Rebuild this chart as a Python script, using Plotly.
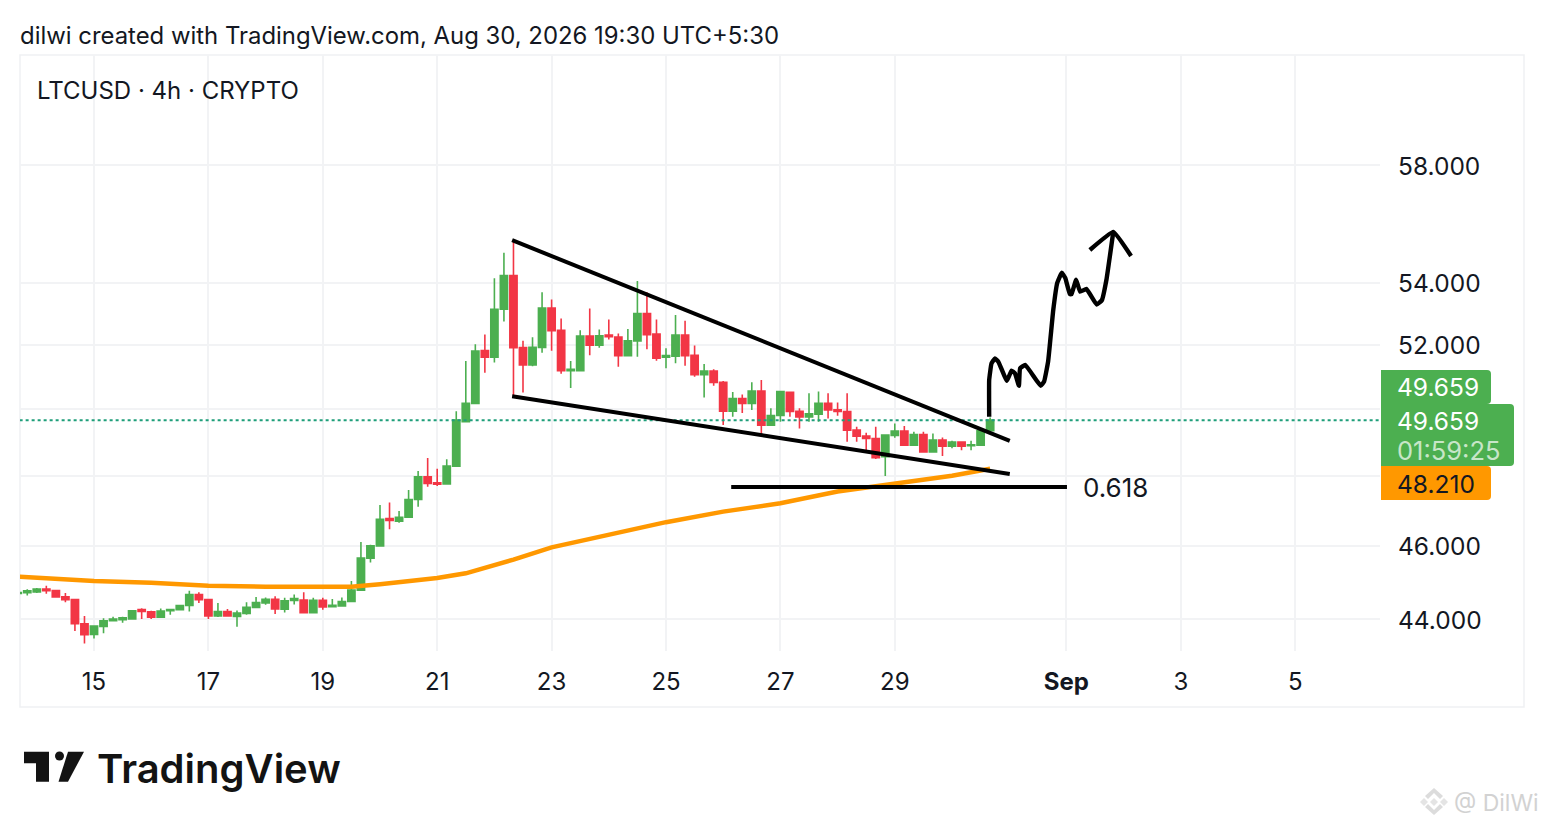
import math
from datetime import datetime, timedelta
import plotly.graph_objects as go

# ---------- data ----------
base_time = datetime(2026, 8, 15)
candle_index = list(range(-8, 95))
open_ = [44.69,44.71,44.73,44.81,44.77,44.60,44.52,43.87,43.59,43.80,43.95,43.98,44.00,44.25,44.19,44.05,44.22,44.25,44.36,44.66,44.52,44.08,44.20,44.07,44.15,44.31,44.43,44.53,44.26,44.50,44.51,44.17,44.50,44.33,44.35,44.47,
         44.78,45.66,46.00,46.77,46.70,46.81,47.32,47.98,47.80,47.77,48.29,49.61,50.17,51.81,51.60,53.13,54.23,51.90,51.36,51.91,53.17,52.45,51.18,51.18,52.27,51.98,52.30,52.24,51.65,52.11,52.99,52.33,51.60,51.63,52.30,51.66,51.05,51.17,50.82,49.93,50.32,50.17,50.55,49.51,49.80,50.51,49.93,49.76,49.84,50.17,49.97,49.92,49.36,49.18,49.11,48.57,49.20,49.33,48.91,49.23,48.71,49.06,48.88,49.00,48.89,48.91,49.34]
high = [44.72,44.80,44.84,44.90,44.79,44.70,44.53,44.08,43.81,44.02,44.06,44.06,44.24,44.29,44.22,44.28,44.27,44.37,44.76,44.72,44.54,44.43,44.27,44.23,44.45,44.59,44.58,44.61,44.57,44.66,44.72,44.57,44.57,44.54,44.58,45.03,
        46.11,46.03,47.16,47.23,46.99,47.59,48.15,48.53,48.21,48.49,49.93,51.48,52.01,52.32,54.14,54.99,55.41,52.12,52.23,53.68,53.44,52.83,51.48,52.45,53.15,52.48,52.80,52.35,52.49,54.05,53.68,52.80,51.88,52.94,52.76,51.97,51.39,51.22,50.86,50.52,50.44,50.82,50.89,50.02,50.55,50.53,50.02,50.48,50.53,50.48,50.20,50.48,49.46,49.28,49.46,49.22,49.56,49.48,49.31,49.31,49.26,49.14,49.04,49.01,49.04,49.36,49.74]
low = [44.68,44.63,44.70,44.68,44.58,44.45,43.68,43.35,43.48,43.62,43.94,43.90,43.99,44.00,44.00,44.05,44.11,44.25,44.20,44.43,44.00,44.05,44.07,43.79,44.11,44.31,44.38,44.13,44.17,44.39,44.17,44.17,44.25,44.31,44.35,44.47,
       44.76,45.54,46.00,46.47,46.65,46.81,47.11,47.69,47.71,47.77,48.29,49.61,50.14,51.11,51.43,52.73,50.39,50.50,51.32,51.74,51.80,51.08,50.64,51.15,51.66,51.90,52.16,51.30,51.65,51.61,51.85,51.49,51.25,51.41,51.33,50.99,50.35,50.71,49.51,49.76,49.88,49.97,49.19,49.51,49.61,49.76,49.41,49.61,49.61,49.71,49.79,49.01,49.01,48.70,48.50,48.00,49.13,48.91,48.91,48.71,48.71,48.59,48.82,48.76,48.76,48.91,49.34]
close = [44.71,44.76,44.81,44.76,44.59,44.52,43.87,43.58,43.81,43.95,44.00,44.03,44.22,44.20,44.05,44.21,44.25,44.36,44.66,44.52,44.08,44.20,44.08,44.16,44.31,44.44,44.53,44.27,44.49,44.55,44.17,44.50,44.32,44.37,44.47,44.78,
         45.66,46.00,46.75,46.72,46.81,47.32,47.98,47.78,47.76,48.29,49.66,50.17,51.79,51.60,53.13,54.23,51.90,51.36,51.91,53.17,52.44,51.18,51.22,52.27,51.98,52.28,52.25,51.65,52.12,52.99,52.31,51.57,51.65,52.30,51.65,51.05,51.17,50.81,49.93,50.32,50.17,50.55,49.51,49.80,50.53,49.92,49.76,49.85,50.17,49.97,49.92,49.36,49.18,49.11,48.54,49.21,49.33,48.91,49.23,48.71,49.06,48.88,49.00,48.88,48.92,49.34,49.66]

ema_index = [-8,-6,-3,0,6,12,18,24,27,30,33,36,39,41,42,44,48,54,60,66,72,78,84,90,94]
ema_value = [45.15,45.12,45.06,45.03,44.98,44.90,44.87,44.87,44.87,44.94,45.03,45.11,45.24,45.39,45.47,45.62,45.96,46.30,46.67,46.97,47.21,47.55,47.79,48.01,48.21]

upper_wedge_day = [7.31, 16.01]
upper_wedge_price = [55.41, 49.04]
lower_wedge_day = [7.31, 16.01]
lower_wedge_price = [50.39, 48.06]
fib_day = [11.14, 17.01]
fib_price = [47.68, 47.68]
sketch_day = [15.65,15.65,15.69,15.75,15.81,15.96,16.04,16.10,16.17,16.19,16.28,16.55,16.61,16.68,16.77,16.84,16.92,16.98,17.06,17.09,17.17,17.24,17.35,17.53,17.62,17.70,17.82]
sketch_price = [49.76,50.89,51.40,51.56,51.46,50.86,51.18,51.10,50.71,51.25,51.36,50.71,50.84,51.46,53.10,53.99,54.32,54.15,53.62,53.62,54.09,53.70,53.79,53.28,53.42,54.09,55.69]
arrow_day = [17.41, 17.82, 18.13]
arrow_price = [55.08, 55.69, 54.88]

last_price = 49.659
y_ticks = [44, 46, 48, 50, 52, 54, 58]
y_labels = ["44.000", "46.000", "", "", "52.000", "54.000", "58.000"]
x_tick_days = [0, 2, 4, 6, 8, 10, 12, 14, 17, 19, 21]
x_labels = ["15", "17", "19", "21", "23", "25", "27", "29", "<b>Sep</b>", "3", "5"]

# ---------- helpers ----------
W, H = 1544, 828
FONT = "Inter"
GRID = "#f2f3f5"
GREEN = "#4caf50"
RED = "#f23645"
ORANGE = "#ff9800"

def t(day):
    return base_time + timedelta(days=day)

def px(x): return x / W
def py(y): return 1 - y / H

def rounded(x0, y0, x1, y1, r, color):
    p = (f"M {px(x0)} {py(y0)} L {px(x1-r)} {py(y0)} Q {px(x1)} {py(y0)} {px(x1)} {py(y0+r)} "
         f"L {px(x1)} {py(y1-r)} Q {px(x1)} {py(y1)} {px(x1-r)} {py(y1)} L {px(x0)} {py(y1)} Z")
    return dict(type="path", path=p, xref="paper", yref="paper", fillcolor=color, line_width=0, layer="above")

def poly(points, color):
    p = "M " + " L ".join(f"{px(a)} {py(b)}" for a, b in points) + " Z"
    return dict(type="path", path=p, xref="paper", yref="paper", fillcolor=color, line_width=0, layer="above")

def label(x, y, text, size=24.5, color="#131722", anchor="left", weight=None, family=FONT):
    return dict(x=px(x), y=py(y), xref="paper", yref="paper", text=text, showarrow=False,
                xanchor=anchor, yanchor="middle", align="left",
                font=dict(size=size, color=color, family=family, weight=weight), borderpad=0)

# ---------- figure ----------
fig = go.Figure()
times = [base_time + timedelta(hours=4 * n) for n in candle_index]
fig.add_trace(go.Candlestick(
    x=times, open=open_, high=high, low=low, close=close,
    increasing=dict(line=dict(color=GREEN, width=1.6), fillcolor=GREEN),
    decreasing=dict(line=dict(color=RED, width=1.6), fillcolor=RED),
    whiskerwidth=0, showlegend=False))
fig.add_trace(go.Scatter(x=[base_time + timedelta(hours=4 * n) for n in ema_index], y=ema_value, mode="lines",
                         line=dict(color=ORANGE, width=4.5), showlegend=False))
fig.add_trace(go.Scatter(x=[t(-1.3), t(22.49)], y=[last_price, last_price], mode="lines",
                         line=dict(color="#1f9e7a", width=2, dash="3px,3px"), showlegend=False))
for d, p in [(upper_wedge_day, upper_wedge_price), (lower_wedge_day, lower_wedge_price), (fib_day, fib_price)]:
    fig.add_trace(go.Scatter(x=[t(v) for v in d], y=p, mode="lines",
                             line=dict(color="#000000", width=4), showlegend=False))
for d, p in [(sketch_day, sketch_price), (arrow_day, arrow_price)]:
    fig.add_trace(go.Scatter(x=[t(v) for v in d], y=p, mode="lines",
                             line=dict(color="#000000", width=4.4, shape="spline", smoothing=0.3), showlegend=False))

x_start, x_end = (20 - 94) / 57.2, (1380 - 94) / 57.2
y_top, y_bottom = 62.02, 43.15

shapes = [
    dict(type="rect", xref="paper", yref="paper", x0=px(20), x1=px(1524), y0=py(707), y1=py(55),
         line=dict(color="#f0f1f3", width=1.5), fillcolor="rgba(0,0,0,0)", layer="below"),
    rounded(1381, 370, 1491, 404, 4, GREEN),
    rounded(1381, 404, 1514, 466, 4, GREEN),
    rounded(1381, 466, 1491, 500, 4, ORANGE),
    # TradingView mark
    poly([(24, 751.7), (49, 751.7), (49, 781.7), (36, 781.7), (36, 763.3), (24, 763.3)], "#131313"),
    dict(type="circle", xref="paper", yref="paper", x0=px(55), x1=px(64), y0=py(760.5), y1=py(751.5),
         fillcolor="#131313", line_width=0, layer="above"),
    poly([(68, 751.7), (84, 751.7), (68, 781.7), (58.5, 781.7)], "#131313"),
    # watermark mark
    poly([(1434, 788), (1443, 796), (1440, 799), (1434, 793), (1428, 799), (1425, 796)], "#dcdcdc"),
    poly([(1424, 798), (1428, 802), (1424, 806), (1420, 802)], "#e4e4e4"),
    poly([(1444, 798), (1448, 802), (1444, 806), (1440, 802)], "#e4e4e4"),
    poly([(1434, 798), (1438, 802), (1434, 806), (1430, 802)], "#e4e4e4"),
    poly([(1425, 807), (1428, 804), (1434, 810), (1440, 804), (1443, 807), (1434, 815)], "#dcdcdc"),
]

annotations = [
    label(19, 36, "dilwi created with TradingView.com, Aug 30, 2026 19:30 UTC+5:30", size=23.9),
    label(35.5, 90, "LTCUSD · 4h · CRYPTO", size=24),
    label(1082, 488, "0.618", size=26),
    label(1396, 387, "49.659", color="#ffffff"),
    label(1396, 421, "49.659", color="#ffffff"),
    label(1396, 450, "01:59:25", size=25.5, color="rgba(255,255,255,0.7)"),
    label(1396, 484, "48.210", color="#131722"),
    label(96, 768, "TradingView", size=40, color="#131313", weight=600),
    label(1453, 803, "@ DilWi", size=23, color="#d2d2d2"),
]

fig.update_layout(
    width=W, height=H, margin=dict(l=0, r=0, t=0, b=0),
    paper_bgcolor="#ffffff", plot_bgcolor="#ffffff", showlegend=False,
    boxgap=0.05, boxgroupgap=0.2, shapes=shapes, annotations=annotations, hovermode=False,
    font=dict(family=FONT, color="#131722", size=24),
    xaxis=dict(domain=[px(20), px(1380)], type="date", range=[t(x_start), t(x_end)],
               rangeslider=dict(visible=False), tickmode="array",
               tickvals=[t(v) for v in x_tick_days], ticktext=x_labels,
               showgrid=True, gridcolor=GRID, gridwidth=1.5, zeroline=False, showline=False, ticks="",
               ticklabelstandoff=14, tickfont=dict(size=24, family=FONT, color="#131722")),
    yaxis=dict(domain=[py(651), py(55)], type="log", side="right",
               range=[math.log10(y_bottom), math.log10(y_top)], tickmode="array",
               tickvals=y_ticks, ticktext=y_labels,
               showgrid=True, gridcolor=GRID, gridwidth=1.5, zeroline=False, showline=False, ticks="",
               ticklabelstandoff=17, ticklabelshift=1, tickfont=dict(size=24.5, family=FONT, color="#131722")),
)

fig.write_html("out.html", config={"displayModeBar": False},
               post_script="document.body.style.margin='0';document.body.style.overflow='hidden';")
